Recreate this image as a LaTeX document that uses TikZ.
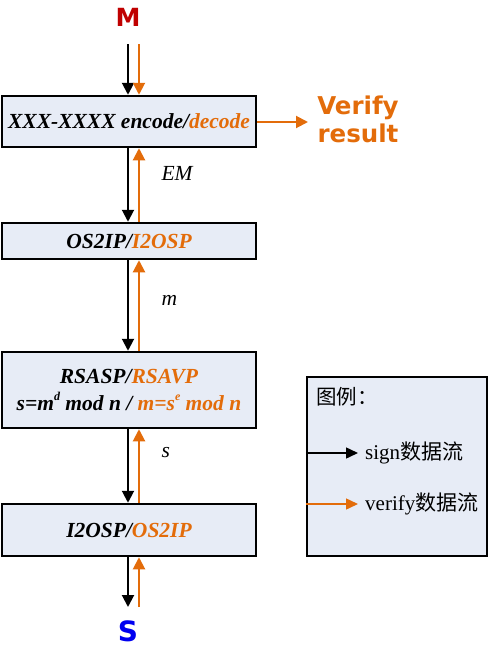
\documentclass[tikz,border=0pt]{standalone}
\usepackage{fontspec}
\setmainfont{Liberation Serif}
\newfontfamily\vfont{DejaVu Sans}
\newfontfamily\cjk{Noto Sans CJK SC}
\usetikzlibrary{arrows.meta}
\definecolor{og}{HTML}{E36C0A}
\definecolor{boxfill}{HTML}{E7ECF6}
\definecolor{mred}{HTML}{C00000}
\definecolor{sblue}{HTML}{0000F0}
\begin{document}
\begin{tikzpicture}[x=1pt,y=-1pt,
  procbox/.style={draw=black,line width=2.5pt,fill=boxfill,minimum width=254pt,inner sep=0pt,align=center,font=\fontsize{21.5}{24}\selectfont\bfseries\itshape},
  blk/.style={line width=2pt,draw=black,-{Triangle[width=12pt,length=12pt]}},
  org/.style={line width=2pt,draw=og,-{Triangle[width=12pt,length=12pt]}},
  lbl/.style={font=\fontsize{21.5}{24}\selectfont\itshape,anchor=west},
]
\useasboundingbox (0,0) rectangle (488,648);
% boxes
\node[procbox,minimum height=51pt] (b1) at (129,121.5) {XXX-XXXX encode/\textcolor{og}{decode}};
\node[procbox,minimum height=36pt] (b2) at (129,241) {OS2IP/\textcolor{og}{I2OSP}};
\node[procbox,minimum height=76pt] (b3) at (129,390) {RSASP/\textcolor{og}{RSAVP}\\[3pt]
  s=m\raisebox{0.45em}{\fontsize{12}{12}\selectfont d} mod n / \textcolor{og}{m=s\raisebox{0.45em}{\fontsize{12}{12}\selectfont e} mod n}};
\node[procbox,minimum height=52pt] (b4) at (129,530) {I2OSP/\textcolor{og}{OS2IP}};
% end labels
\node[font=\vfont\bfseries\fontsize{25}{28}\selectfont,text=mred] (M) at (128,17) {M};
\node[font=\vfont\bfseries\fontsize{28}{30}\selectfont,text=sblue] (S) at (128,631) {S};
\node[font=\vfont\bfseries\fontsize{24.5}{28}\selectfont,text=og,align=center] (vr) at (358,119) {Verify\\result};
% coordinates
\coordinate (mt1) at (128,44); \coordinate (mt2) at (139,44);
\coordinate (sb1) at (128,607); \coordinate (sb2) at (139,607);
% top arrows
\draw[blk] (mt1) -- (mt1 |- b1.north);
\draw[org] (mt2) -- (mt2 |- b1.north);
% b1-b2
\draw[blk] (mt1 |- b1.south) -- (mt1 |- b2.north);
\draw[org] (mt2 |- b2.north) -- (mt2 |- b1.south);
% b2-b3
\draw[blk] (mt1 |- b2.south) -- (mt1 |- b3.north);
\draw[org] (mt2 |- b3.north) -- (mt2 |- b2.south);
% b3-b4
\draw[blk] (mt1 |- b3.south) -- (mt1 |- b4.north);
\draw[org] (mt2 |- b4.north) -- (mt2 |- b3.south);
% bottom
\draw[blk] (mt1 |- b4.south) -- (sb1);
\draw[org] (sb2) -- (mt2 |- b4.south);
% verify
\coordinate (vre) at (308,122);
\draw[org] (b1.east |- vre) -- (vre);
% flow labels
\node[lbl] (lEM) at (158,173) {EM};
\node[lbl] (lm) at (158,300) {m};
\node[lbl] (ls) at (158,453) {s};
% legend
\node[draw=black,line width=2.5pt,fill=boxfill,minimum width=180pt,minimum height=179pt,inner sep=0pt] (leg) at (397,466.5) {};
\node[font=\cjk\fontsize{20.5}{24}\selectfont,anchor=west,inner sep=0pt] (lt) at (316,397) {图例：};
\coordinate (l1a) at (leg.west |- 0,453); \coordinate (l1b) at (358,453);
\coordinate (l2a) at (leg.west |- 0,504); \coordinate (l2b) at (358,504);
\draw[line width=1.5pt,draw=black,-{Triangle[width=11pt,length=12pt]}] (l1a) -- (l1b);
\draw[line width=1.5pt,draw=og,-{Triangle[width=11pt,length=12pt]}] (l2a) -- (l2b);
\node[font=\fontsize{21}{24}\selectfont,anchor=west,inner sep=0pt] (t1) at (365,453) {sign{\cjk 数据流}};
\node[font=\fontsize{21}{24}\selectfont,anchor=west,inner sep=0pt] (t2) at (365,504) {verify{\cjk 数据流}};
\end{tikzpicture}
\end{document}
